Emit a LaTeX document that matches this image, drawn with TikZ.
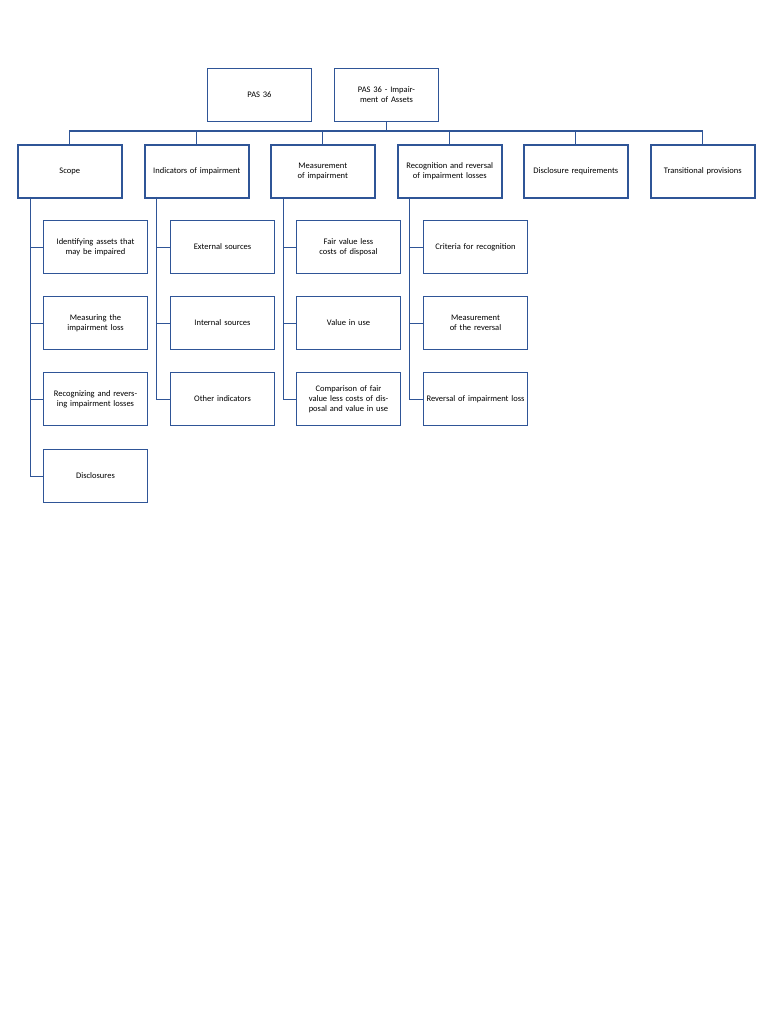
\documentclass[tikz,border=0pt]{standalone}
\usepackage{fontspec}
\setmainfont{Carlito}
\begin{document}
\begin{tikzpicture}[x=1pt,y=-1pt,
  bx/.style={draw=boxblue,line width=1pt,fill=white,minimum width=104pt,minimum height=53pt,text width=100pt,align=center,font=\fontsize{8.5}{10}\selectfont,anchor=north west,inner sep=1pt},
  top/.style={bx,line width=1.6pt},
  ln/.style={draw=boxblue,line width=1.2pt}]
\definecolor{boxblue}{HTML}{2F5597}
\useasboundingbox (0,0) rectangle (768,1024);
\node[bx] (p1) at (207,68) {PAS 36};
\node[bx] (p2) at (334,68) {PAS 36 - Impairment of Assets};
\node[top] (a) at (17,144) {Scope};
\node[top] (b) at (144,144) {Indicators of impairment};
\node[top] (c) at (270,144) {Measurement of impairment};
\node[top] (d) at (397,144) {Recognition and reversal of impairment losses};
\node[top] (e) at (523,144) {Disclosure requirements};
\node[top] (f) at (650,144) {Transitional provisions};
\coordinate (bar) at (0,131);
\draw[ln] (p2.south) -- (p2.south |- bar);
\draw[ln] (a.north) -- (a.north |- bar) -- (f.north |- bar) -- (f.north);
\foreach \n in {b,c,d,e} \draw[ln] (\n.north |- bar) -- (\n.north);
\node[bx] (a1) at (43,220) {Identifying assets that may be impaired};
\node[bx] (a2) at (43,296) {Measuring the impairment loss};
\node[bx] (a3) at (43,372) {Recognizing and reversing impairment losses};
\node[bx] (a4) at (43,449) {Disclosures};
\node[bx] (b1) at (170,220) {External sources};
\node[bx] (b2) at (170,296) {Internal sources};
\node[bx] (b3) at (170,372) {Other indicators};
\node[bx] (c1) at (296,220) {Fair value less costs of disposal};
\node[bx] (c2) at (296,296) {Value in use};
\node[bx] (c3) at (296,372) {Comparison of fair value less costs of disposal and value in use};
\node[bx] (d1) at (423,220) {Criteria for recognition};
\node[bx] (d2) at (423,296) {Measurement of the reversal};
\node[bx] (d3) at (423,372) {Reversal of impairment loss};
\foreach \p/\x/\k in {a/30/4,b/156/3,c/283/3,d/409/3}{
  \coordinate (\p top) at (\x,197);
  \draw[ln,line width=0.8pt] (\p top) -- (\p top |- \p\k.west) -- (\p\k.west);
  \foreach \i in {1,...,\k} \draw[ln,line width=0.8pt] (\p top |- \p\i.west) -- (\p\i.west);
}
\end{tikzpicture}
\end{document}
